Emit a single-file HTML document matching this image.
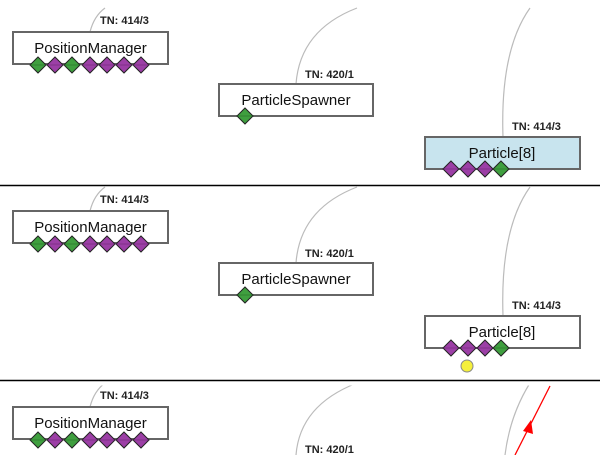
<!DOCTYPE html>
<html><head><style>html,body{margin:0;background:#fff;width:600px;height:455px;overflow:hidden}svg{display:block}</style></head><body>
<svg width="600" height="455" viewBox="0 0 600 455" xmlns="http://www.w3.org/2000/svg" font-family="Liberation Sans, Arial, sans-serif">
<defs>
<clipPath id="c"><rect x="0" y="0" width="600" height="455"/></clipPath>
<g id="dg"><path d="M0,-8 L8,0 L0,8 L-8,0Z" fill="#3f9f3f" stroke="#222" stroke-width="1"/><path d="M-8,0 L8,0" stroke="#2a6e2a" stroke-width="0.6"/></g>
<g id="dp"><path d="M0,-8 L8,0 L0,8 L-8,0Z" fill="#9c3fa6" stroke="#222" stroke-width="1"/><path d="M-8,0 L8,0" stroke="#6d2a75" stroke-width="0.6"/></g>
<g id="panel">
<path d="M90,32 Q94,16 105,8" fill="none" stroke="#bbb" stroke-width="1.2"/>
<path d="M296,84 Q300,30 357,8" fill="none" stroke="#bbb" stroke-width="1.2"/>
<path d="M503,137 Q500,50 530,8" fill="none" stroke="#bbb" stroke-width="1.2"/>
<text x="100" y="24" font-size="11" font-weight="bold" fill="#222">TN: 414/3</text>
<text x="305" y="78" font-size="11" font-weight="bold" fill="#222">TN: 420/1</text>
<text x="512" y="130" font-size="11" font-weight="bold" fill="#222">TN: 414/3</text>
<rect x="13" y="32" width="155" height="32" fill="#fff" stroke="#666" stroke-width="2"/>
<text x="90.5" y="53" font-size="15" text-anchor="middle" fill="#111">PositionManager</text>
<rect x="219" y="84" width="154" height="32" fill="#fff" stroke="#666" stroke-width="2"/>
<text x="296" y="105" font-size="15" text-anchor="middle" fill="#111">ParticleSpawner</text>
</g>
</defs>
<g clip-path="url(#c)">
<use href="#panel"/>
<rect x="425" y="137" width="155" height="32" fill="#c8e4ee" stroke="#666" stroke-width="2"/>
<text x="502" y="158" font-size="15" text-anchor="middle" fill="#111">Particle[8]</text>
<use href="#dg" x="38" y="65"/><use href="#dp" x="55" y="65"/><use href="#dg" x="72" y="65"/><use href="#dp" x="90" y="65"/><use href="#dp" x="107" y="65"/><use href="#dp" x="124" y="65"/><use href="#dp" x="141" y="65"/>
<use href="#dg" x="245" y="116"/>
<use href="#dp" x="451" y="169"/><use href="#dp" x="468" y="169"/><use href="#dp" x="485" y="169"/><use href="#dg" x="501" y="169"/>
<line x1="0" y1="185.5" x2="600" y2="185.5" stroke="#000" stroke-width="1.5"/>

<g transform="translate(0,179)">
<use href="#panel"/>
<rect x="425" y="137" width="155" height="32" fill="#fff" stroke="#666" stroke-width="2"/>
<text x="502" y="158" font-size="15" text-anchor="middle" fill="#111">Particle[8]</text>
<use href="#dg" x="38" y="65"/><use href="#dp" x="55" y="65"/><use href="#dg" x="72" y="65"/><use href="#dp" x="90" y="65"/><use href="#dp" x="107" y="65"/><use href="#dp" x="124" y="65"/><use href="#dp" x="141" y="65"/>
<use href="#dg" x="245" y="116"/>
<use href="#dp" x="451" y="169"/><use href="#dp" x="468" y="169"/><use href="#dp" x="485" y="169"/><use href="#dg" x="501" y="169"/>
<circle cx="467" cy="187" r="6" fill="#f5f03c" stroke="#888" stroke-width="1"/>
</g>
<line x1="0" y1="380.5" x2="600" y2="380.5" stroke="#000" stroke-width="1.5"/>

<g transform="translate(0,375)">
<path d="M90,32 Q94,16 105,8" fill="none" stroke="#bbb" stroke-width="1.2"/>
<path d="M296,80 Q300,30 357,8" fill="none" stroke="#bbb" stroke-width="1.2"/>
<path d="M505,80 Q510,40 530,8" fill="none" stroke="#bbb" stroke-width="1.2"/>
<text x="100" y="24" font-size="11" font-weight="bold" fill="#222">TN: 414/3</text>
<text x="305" y="78" font-size="11" font-weight="bold" fill="#222">TN: 420/1</text>
<rect x="13" y="32" width="155" height="32" fill="#fff" stroke="#666" stroke-width="2"/>
<text x="90.5" y="53" font-size="15" text-anchor="middle" fill="#111">PositionManager</text>
<use href="#dg" x="38" y="65"/><use href="#dp" x="55" y="65"/><use href="#dg" x="72" y="65"/><use href="#dp" x="90" y="65"/><use href="#dp" x="107" y="65"/><use href="#dp" x="124" y="65"/><use href="#dp" x="141" y="65"/>
</g>
<rect x="0" y="381.5" width="600" height="4" fill="#fff"/>
<line x1="550" y1="386" x2="515" y2="455" stroke="#f00" stroke-width="1.3"/>
<path d="M531,420 L533,434 L523,431Z" fill="#f00"/>
</g>
</svg>
</body></html>
